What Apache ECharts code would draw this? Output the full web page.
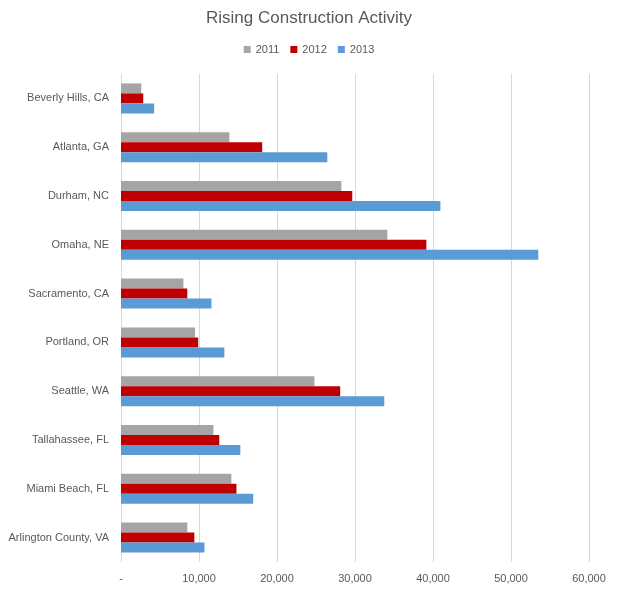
<!DOCTYPE html>
<html>
<head>
<meta charset="utf-8">
<script src="https://cdn.jsdelivr.net/npm/echarts@6/dist/echarts.min.js"></script>
<style>
  html, body { margin: 0; padding: 0; background: #fff; }
  #chart { width: 618px; height: 589px; }
</style>
</head>
<body>
<div id="chart"></div>
<script>
  // 数据
  const cities = ['Beverly Hills, CA', 'Atlanta, GA', 'Durham, NC', 'Omaha, NE', 'Sacramento, CA',
    'Portland, OR', 'Seattle, WA', 'Tallahassee, FL', 'Miami Beach, FL', 'Arlington County, VA'];
  const years = ['2011', '2012', '2013'];
  const values2011 = [2600, 13900, 28250, 34150, 8000, 9500, 24800, 11850, 14150, 8500];
  const values2012 = [2850, 18100, 29650, 39150, 8500, 9900, 28100, 12600, 14800, 9400];
  const values2013 = [4250, 26450, 40950, 53500, 11600, 13250, 33750, 15300, 16950, 10700];
  const colors = ['#A5A5A5', '#C00000', '#5B9BD5'];

  const chart = echarts.init(document.getElementById('chart'), null, { renderer: 'canvas' });
  const font = 'Liberation Sans, Arial, sans-serif';

  const series = [values2011, values2012, values2013].map((vals, i) => ({
    name: years[i],
    type: 'bar',
    data: vals,
    barWidth: 10,
    barGap: '0%',
    itemStyle: { color: colors[i] }
  }));

  chart.setOption({
    animation: false,
    textStyle: { fontFamily: font },
    title: {
      text: 'Rising Construction Activity',
      left: 'center',
      top: 5,
      textStyle: { fontSize: 17, fontWeight: 'normal', color: '#595959', fontFamily: font }
    },
    legend: {
      data: years,
      top: 39,
      left: 'center',
      itemWidth: 7,
      itemHeight: 7,
      itemGap: 11,
      icon: 'rect',
      textStyle: { fontSize: 11, color: '#595959', fontFamily: font }
    },
    grid: { left: 121, right: 29, top: 74, bottom: 27, containLabel: false },
    xAxis: {
      type: 'value',
      min: 0,
      max: 60000,
      interval: 10000,
      axisLine: { show: false },
      axisTick: { show: false },
      splitLine: { lineStyle: { color: '#D9D9D9', width: 1 } },
      axisLabel: {
        fontSize: 11,
        color: '#595959',
        margin: 11,
        formatter: v => v === 0 ? '-' : v.toLocaleString('en-US')
      }
    },
    yAxis: {
      type: 'category',
      data: cities,
      inverse: true,
      axisLine: { show: false },
      axisTick: { show: false },
      axisLabel: { fontSize: 11, color: '#595959', margin: 12 }
    },
    series: series
  });
</script>
</body>
</html>
